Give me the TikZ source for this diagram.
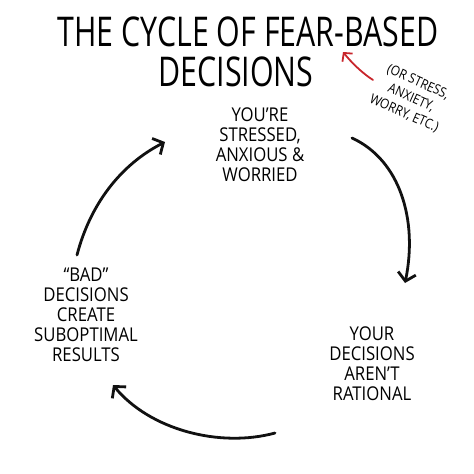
\documentclass[tikz,border=0pt]{standalone}
\usepackage{fontspec}
\usepackage{tikz}
\usetikzlibrary{arrows.meta}
\newfontfamily\titlefont[FakeStretch=0.74, Ligatures=TeX]{Open Sans}
\newfontfamily\handfont[FakeStretch=0.88, Ligatures=TeX]{Open Sans}
\definecolor{pen}{HTML}{111111}
\definecolor{redpen}{HTML}{C8262C}

\begin{document}
\begin{tikzpicture}[
          x=1pt, y=-1pt,
          title/.style={font=\titlefont\fontsize{41}{40}\selectfont, anchor=north, inner sep=0pt},
          hand/.style={font=\handfont\fontsize{19}{20}\selectfont, align=center, anchor=north, inner sep=0pt},
          note/.style={font=\handfont\fontsize{13.5}{17}\selectfont, align=center, inner sep=0pt, rotate=-24},
          cyc/.style={draw=pen, line width=2.8pt, line cap=round, -{Straight Barb[length=8pt, width=18pt, line width=2.8pt]}},
          hint/.style={draw=redpen, line width=1.8pt, line cap=round, -{Straight Barb[length=6pt, width=13pt, line width=1.8pt]}}
      ]
        \useasboundingbox (0,0) rectangle (474,474);
        % title and side note
        \node[title] (title1) at (248,17) {THE CYCLE OF FEAR-BASED};
        \node[title] (title2) at (236,57) {DECISIONS};
        \node[note] (aside) at (411,98) {(OR STRESS,\\ANXIETY,\\WORRY, ETC.)};
        % the three stages
        \node[hand] (stressed) at (260,108) {YOU'RE\\STRESSED,\\ANXIOUS \&\\WORRIED};
        \node[hand] (irrational) at (372,327) {YOUR\\DECISIONS\\AREN'T\\RATIONAL};
        \node[hand] (results) at (86,268) {``BAD''\\DECISIONS\\CREATE\\SUBOPTIMAL\\RESULTS};
        % arrow ends
        \coordinate (a1) at (352,138);
        \coordinate (a2) at (405,283);
        \coordinate (b1) at (275,433);
        \coordinate (b2) at (113,385);
        \coordinate (c1) at (77,255);
        \coordinate (c2) at (165,142);
        \coordinate (r1) at (373,80);
        \coordinate (r2) at (343,52);
        \draw[cyc] (a1) .. controls (400,160) and (418,220) .. (a2);
        \draw[cyc] (b1) .. controls (220,448) and (150,430) .. (b2);
        \draw[cyc] (c1) .. controls (90,205) and (120,165) .. (c2);
        \draw[hint] (r1) .. controls (362,73) and (351,62) .. (r2);
      \end{tikzpicture}
\end{document}
